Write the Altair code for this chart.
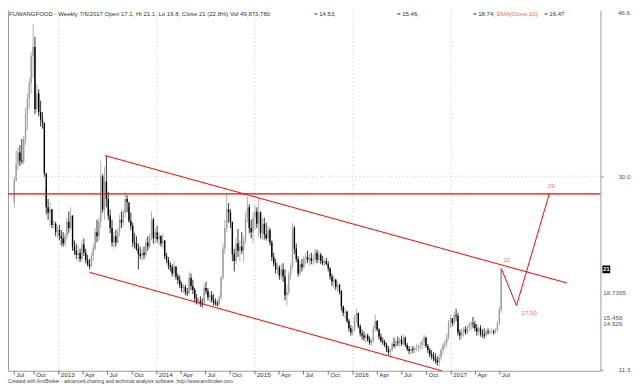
import altair as alt
import pandas as pd

W, H = 600, 365
FONT = "Liberation Sans"

# ---------------- data ----------------
start_week = "2012-07-19"
first_open = 27.5

highs = [30.0, 32.5, 32.8, 33.0, 33.6, 33.9, 36.6, 38.0, 39.5, 42.0,
         44.7, 43.5, 38.9, 38.4, 37.3, 36.2, 35.0, 28.8, 27.8, 27.5,
         26.8, 25.8, 25.6, 25.2, 25.3, 24.8, 24.6, 24.5, 26.0, 26.6,
         27.0, 26.2, 23.8, 23.5, 23.3, 23.0, 23.8, 24.0, 23.0, 22.4,
         22.0, 22.6, 23.5, 25.0, 25.8, 26.0, 31.5, 30.2, 30.9, 32.0,
         28.5, 26.8, 25.8, 24.6, 24.8, 25.0, 26.3, 26.6, 26.8, 28.5,
         28.2, 27.0, 26.5, 25.5, 24.5, 24.2, 23.5, 23.2, 23.0, 23.2,
         24.0, 24.2, 24.5, 26.6, 26.0, 25.0, 25.2, 24.6, 24.3, 24.5,
         23.8, 22.6, 22.2, 21.7, 21.5, 21.8, 21.2, 20.6, 20.4, 19.8,
         19.6, 19.5, 19.2, 20.8, 20.6, 20.0, 19.2, 18.6, 18.3, 18.4,
         18.2, 19.6, 19.8, 19.2, 18.8, 18.9, 18.6, 18.2, 18.0, 18.5,
         20.4, 23.5, 25.8, 28.4, 27.4, 26.8, 25.6, 23.0, 24.0, 24.9,
         23.8, 24.6, 24.2, 26.5, 28.0, 27.3, 25.8, 26.5, 27.2, 27.0,
         28.0, 26.6, 26.0, 26.0, 25.5, 25.2, 25.0, 23.8, 22.6, 22.0,
         21.7, 21.4, 21.5, 21.6, 21.0, 19.5, 20.8, 21.6, 25.5, 25.2,
         23.5, 22.3, 21.8, 22.0, 22.3, 22.6, 22.8, 22.5, 22.6, 22.4,
         23.0, 22.9, 22.8, 22.6, 22.3, 22.0, 22.1, 21.8, 21.2, 20.6,
         20.4, 20.1, 19.8, 19.6, 19.0, 17.5, 17.3, 17.0, 16.2, 15.6,
         15.5, 16.6, 17.2, 16.8, 15.7, 15.2, 15.0, 14.8, 14.8, 14.5,
         14.3, 15.6, 16.6, 16.1, 15.3, 14.8, 14.4, 14.2, 13.9, 13.6,
         13.4, 14.0, 14.4, 14.2, 14.5, 14.4, 14.6, 14.7, 14.5, 13.9,
         13.6, 13.5, 13.6, 13.5, 13.8, 13.7, 14.0, 14.3, 14.7, 14.5,
         13.8, 13.4, 13.2, 13.0, 12.9, 12.6, 12.8, 13.4, 13.9, 14.2,
         14.8, 16.1, 16.6, 16.3, 16.9, 17.2, 16.8, 15.2, 15.3, 15.4,
         15.5, 15.6, 15.9, 16.0, 16.4, 16.0, 15.7, 15.5, 15.6, 15.2,
         15.3, 15.2, 15.3, 15.2, 15.3, 15.2, 15.3, 16.0, 17.4, 21.1]

lows = [26.9, 29.5, 30.6, 31.0, 31.2, 31.2, 33.0, 34.5, 36.5, 38.0,
        39.5, 36.0, 36.2, 35.8, 34.8, 34.6, 29.9, 26.3, 25.8, 25.2,
        25.0, 24.9, 24.2, 24.0, 23.8, 23.3, 23.2, 23.2, 23.9, 24.5,
        24.8, 22.8, 22.4, 22.0, 21.8, 21.7, 21.8, 22.3, 21.6, 21.3,
        21.0, 21.2, 21.8, 22.8, 23.6, 23.8, 25.0, 26.5, 25.8, 27.0,
        25.8, 24.5, 23.2, 23.0, 23.2, 23.5, 24.2, 25.0, 25.2, 26.0,
        26.5, 25.5, 24.8, 23.2, 23.0, 22.8, 21.0, 22.0, 21.8, 22.0,
        22.2, 22.8, 23.0, 23.8, 23.5, 23.5, 23.6, 23.3, 23.2, 23.0,
        22.0, 21.6, 21.0, 20.8, 20.3, 20.2, 20.0, 19.6, 19.2, 18.8,
        18.7, 18.5, 18.4, 18.6, 19.0, 18.6, 17.8, 17.6, 17.6, 17.4,
        17.3, 17.8, 18.6, 18.0, 17.8, 17.8, 17.5, 17.5, 17.4, 17.4,
        18.0, 20.0, 22.5, 24.6, 25.5, 25.0, 21.8, 20.8, 21.5, 22.2,
        21.8, 22.5, 21.7, 23.5, 25.5, 24.5, 24.0, 23.5, 24.8, 25.0,
        24.2, 24.0, 23.8, 23.9, 23.8, 23.7, 23.3, 21.8, 21.3, 20.6,
        20.5, 20.0, 20.0, 19.8, 18.0, 17.5, 18.5, 20.0, 21.0, 22.5,
        21.7, 20.3, 20.4, 20.8, 21.0, 21.5, 21.6, 21.4, 21.5, 21.4,
        21.6, 21.6, 21.6, 21.5, 21.4, 21.3, 21.4, 20.8, 20.0, 19.4,
        19.2, 19.0, 18.8, 18.6, 17.0, 16.5, 16.2, 15.8, 15.0, 14.6,
        14.6, 15.0, 15.8, 15.3, 14.5, 14.2, 14.1, 13.9, 14.0, 13.7,
        13.6, 13.9, 15.0, 15.0, 14.2, 13.9, 13.7, 13.5, 13.0, 12.7,
        12.6, 13.0, 13.4, 13.3, 13.6, 13.5, 13.6, 13.7, 13.5, 13.1,
        12.8, 12.8, 12.9, 12.9, 13.1, 13.0, 13.2, 13.3, 13.6, 13.4,
        12.9, 12.5, 12.3, 12.1, 11.9, 11.7, 11.6, 12.2, 12.8, 13.3,
        13.5, 14.2, 15.3, 15.5, 15.6, 16.0, 14.6, 14.2, 14.3, 14.5,
        14.7, 14.7, 15.0, 15.1, 15.3, 15.0, 14.6, 14.6, 14.5, 14.4,
        14.3, 14.5, 14.7, 14.7, 14.8, 14.7, 14.8, 15.0, 15.6, 16.8]

closes = [29.6, 31.2, 32.3, 31.5, 31.4, 33.6, 36.0, 37.5, 39.0, 41.6,
          42.5, 36.5, 38.0, 36.2, 35.5, 35.2, 30.3, 27.0, 26.5, 26.8,
          25.3, 25.4, 24.6, 24.8, 24.2, 24.0, 23.5, 24.2, 25.6, 25.0,
          26.2, 23.2, 22.8, 22.4, 22.6, 22.0, 23.4, 22.6, 21.9, 21.5,
          21.3, 22.3, 23.0, 24.6, 24.2, 25.6, 30.0, 26.8, 29.5, 27.8,
          26.2, 25.0, 23.6, 24.2, 23.6, 24.6, 25.8, 25.5, 26.5, 27.8,
          27.5, 25.7, 25.2, 23.6, 23.5, 23.0, 22.5, 22.3, 22.6, 22.4,
          23.6, 23.2, 24.2, 25.8, 24.0, 24.6, 23.9, 24.2, 23.5, 23.8,
          22.3, 21.9, 21.4, 21.2, 20.6, 21.3, 20.3, 20.0, 19.5, 19.2,
          19.3, 18.8, 18.7, 20.2, 19.4, 19.0, 18.2, 17.9, 18.0, 17.7,
          17.6, 19.2, 18.9, 18.3, 18.5, 18.0, 17.8, 17.7, 17.6, 18.3,
          20.2, 23.0, 25.0, 26.8, 26.5, 25.6, 22.5, 21.8, 23.5, 22.8,
          23.2, 22.8, 23.8, 26.0, 27.0, 25.0, 24.6, 26.0, 26.6, 25.4,
          26.5, 24.5, 25.4, 24.4, 24.0, 24.8, 23.6, 22.2, 21.6, 21.0,
          21.2, 20.4, 21.0, 20.3, 18.5, 18.8, 20.5, 21.3, 25.0, 23.0,
          22.0, 20.6, 21.5, 21.2, 22.0, 22.2, 21.9, 22.1, 21.8, 22.0,
          22.6, 21.9, 22.4, 21.8, 21.6, 21.8, 21.5, 21.1, 20.3, 19.8,
          20.0, 19.3, 19.5, 18.9, 17.4, 16.8, 16.9, 16.0, 15.3, 14.9,
          15.2, 16.4, 16.8, 15.5, 14.8, 14.6, 14.4, 14.6, 14.2, 13.9,
          14.1, 15.3, 16.0, 15.2, 14.5, 14.1, 14.0, 13.7, 13.3, 13.0,
          13.2, 13.8, 13.6, 14.0, 13.9, 14.2, 13.8, 14.4, 13.7, 13.3,
          13.1, 13.3, 13.2, 13.4, 13.4, 13.6, 13.7, 14.0, 14.4, 13.6,
          13.2, 12.8, 12.6, 12.4, 12.2, 12.0, 12.5, 13.2, 13.7, 13.9,
          14.5, 15.8, 16.3, 15.8, 16.6, 16.5, 14.9, 14.6, 15.0, 15.2,
          14.9, 15.4, 15.6, 15.8, 15.7, 15.3, 15.0, 15.3, 14.8, 14.7,
          14.6, 15.0, 14.9, 15.0, 15.0, 14.9, 15.1, 15.8, 17.1, 21.0]

# channel / projection drawing (date, price)
upper_dates = ["2013-06-22", "2018-03-07"]
upper_prices = [32.0, 19.69]
lower_dates = ["2013-04-26", "2016-11-26"]
lower_prices = [20.71, 11.2]
resistance = 28.3
proj_dates = ["2017-07-06", "2017-09-01", "2018-01-01"]
proj_prices = [21.1, 17.5, 28.3]
proj_label_dates = ["2017-07-27", "2017-10-18", "2018-01-08"]
proj_label_prices = [21.9, 16.83, 29.05]
proj_labels = ["22", "17.50", "29"]

year_dates = ["2013-01-01", "2014-01-01", "2015-01-01", "2016-01-01", "2017-01-01"]
grid_prices = [30.0]
axis_prices = [30.0, 11.3]
top_price_label = "46.6"

side_texts = ["18.7395", "15.456", "14.526"]
side_pos = [18.7395, 16.3, 15.71]
last_close = 21

quarter_dates = ["2012-07-19", "2012-10-01", "2013-01-01", "2013-04-01", "2013-07-01", "2013-10-01",
                 "2014-01-01", "2014-04-01", "2014-07-01", "2014-10-01", "2015-01-01", "2015-04-01",
                 "2015-07-01", "2015-10-01", "2016-01-01", "2016-04-01", "2016-07-01", "2016-10-01",
                 "2017-01-01", "2017-04-01", "2017-07-01"]
quarter_labels = ["Jul", "Oct", "2013", "Apr", "Jul", "Oct", "2014", "Apr", "Jul", "Oct", "2015", "Apr",
                  "Jul", "Oct", "2016", "Apr", "Jul", "Oct", "2017", "Apr", "Jul"]

header_main = "FUWANGFOOD - Weekly 7/6/2017 Open 17.1, Hi 21.1, Lo 16.8, Close 21 (22.8%) Vol 49,873,780"
credits = "Created with AmiBroker - advanced charting and technical analysis software. http://www.amibroker.com"

# ---------------- tables ----------------
dates = pd.date_range(start_week, periods=len(closes), freq="7D")
opens = [first_open] + closes[:-1]
df = pd.DataFrame({"date": dates, "open": opens, "high": highs, "low": lows, "close": closes})
df["dir"] = ["up" if c >= o else "down" for o, c in zip(opens, closes)]

chan = pd.DataFrame({
    "date": pd.to_datetime(upper_dates + lower_dates),
    "price": upper_prices + lower_prices,
    "seg": ["u", "u", "l", "l"],
})
proj = pd.DataFrame({"date": pd.to_datetime(proj_dates), "price": proj_prices})
projlab = pd.DataFrame({"date": pd.to_datetime(proj_label_dates), "price": proj_label_prices,
                        "t": proj_labels})
years = pd.DataFrame({"date": pd.to_datetime(year_dates)})
quarters = pd.DataFrame({"date": pd.to_datetime(quarter_dates), "t": quarter_labels})
hgrid = pd.DataFrame({"price": grid_prices})
res = pd.DataFrame({"price": [resistance]})
side = pd.DataFrame({"price": side_pos, "t": side_texts})
lastc = pd.DataFrame({"price": [last_close], "t": [str(last_close)]})

x_scale = alt.Scale(domain=[alt.DateTime(year=2012, month=7, date=14),
                            alt.DateTime(year=2018, month=6, date=22)])
y_scale = alt.Scale(domain=[11.2, 46.03], nice=False, zero=False)

x_axis = alt.Axis(labels=False, ticks=False, grid=False, domainColor="#999", title=None)
y_axis = alt.Axis(
    orient="right", values=axis_prices, format=".1f", grid=False,
    labelAlign="right", labelPadding=27, tickSize=3, tickColor="#999", domainColor="#999",
    labelColor="#4a5566", labelFont=FONT, labelFontSize=6.3, labelOverlap=False, title=None,
)


def X(field="date:T", **kw):
    return alt.X(field, scale=x_scale, title=None, **kw)


def Y(field="price:Q", **kw):
    return alt.Y(field, scale=y_scale, title=None, **kw)


dir_color = alt.Color("dir:N", scale=alt.Scale(domain=["up", "down"], range=["#9c9c9c", "#000000"]),
                      legend=None)

wicks = alt.Chart(df).mark_rule(strokeWidth=0.8).encode(
    x=X(axis=x_axis), y=Y("low:Q", axis=y_axis), y2="high:Q", color=dir_color)
bodies = alt.Chart(df).mark_bar(width=1.4).encode(
    x=X(), y=Y("open:Q"), y2="close:Q", color=dir_color)

vgrid = alt.Chart(years).mark_rule(color="#c4c4c4", strokeDash=[1, 3], strokeWidth=1).encode(
    x=X(), y=alt.value(0), y2=alt.value(H))
hgrid_l = alt.Chart(hgrid).mark_rule(color="#c4c4c4", strokeDash=[1, 3], strokeWidth=1).encode(
    y=Y(), x=alt.value(0), x2=alt.value(W))
left_frame = alt.Chart(hgrid).mark_rule(color="#999", strokeWidth=1).encode(
    x=alt.value(0.5), y=alt.value(0), y2=alt.value(H))

qticks = alt.Chart(quarters).mark_rule(color="#777", strokeWidth=1).encode(
    x=X(), y=alt.value(H), y2=alt.value(H + 4))
qlabels = alt.Chart(quarters).mark_text(font=FONT, fontSize=6.3, color="#333", align="left",
                                        baseline="top", dx=2).encode(
    x=X(), y=alt.value(H + 1), text="t:N")

res_line = alt.Chart(res).mark_rule(color="#ff0000", strokeWidth=1.4).encode(
    y=Y(), x=alt.value(0), x2=alt.value(W))
chan_lines = alt.Chart(chan).mark_line(color="#ff0000", strokeWidth=1).encode(
    x=X(), y=Y(), detail="seg:N")
proj_line = alt.Chart(proj).mark_line(color="#ff0000", strokeWidth=1).encode(x=X(), y=Y())
proj_text = alt.Chart(projlab).mark_text(font=FONT, fontSize=6.3, color="#f07868").encode(
    x=X(), y=Y(), text="t:N")

side_text = alt.Chart(side).mark_text(font=FONT, fontSize=6.3, color="#555", align="left").encode(
    x=alt.value(W + 3), y=Y(), text="t:N")
last_box = alt.Chart(lastc).mark_square(size=62, color="#000", opacity=1, filled=True).encode(
    x=alt.value(W + 6), y=Y())
last_text = alt.Chart(lastc).mark_text(font=FONT, fontSize=6.3, color="#fff", fontWeight="bold").encode(
    x=alt.value(W + 6), y=Y(), text="t:N")


def label(txt, xpos, ypos, color="#333", size=6.1, align="left", baseline="middle"):
    return alt.Chart(pd.DataFrame({"t": [txt]})).mark_text(
        font=FONT, fontSize=size, color=color, align=align, baseline=baseline).encode(
        x=alt.value(xpos), y=alt.value(ypos), text="t:N")


headers = [
    label(header_main, 1, 4),
    label("= 14.53,", 310, 4),
    label("= 15.46,", 394, 4),
    label("= 18.74,", 471, 4),
    label("EMA(Close,10)", 495, 4, color="#e0745c"),
    label("= 16.47", 543, 4),
    label(top_price_label, 630, 0, color="#4a5566", size=6.3, align="right", baseline="top"),
    label(credits, 0, H + 10, color="#444", size=5),
]

chart = alt.layer(
    wicks, bodies, vgrid, hgrid_l, left_frame, qticks, qlabels, res_line, chan_lines, proj_line,
    proj_text, side_text, last_box, last_text, *headers
).properties(
    width=W, height=H,
    padding={"left": 0, "top": 0, "right": 32, "bottom": 14},
    autosize=alt.AutoSizeParams(type="none"),
    background="white",
).configure_view(stroke=None)

chart.save("out.html", embed_options={"renderer": "svg", "actions": False})
